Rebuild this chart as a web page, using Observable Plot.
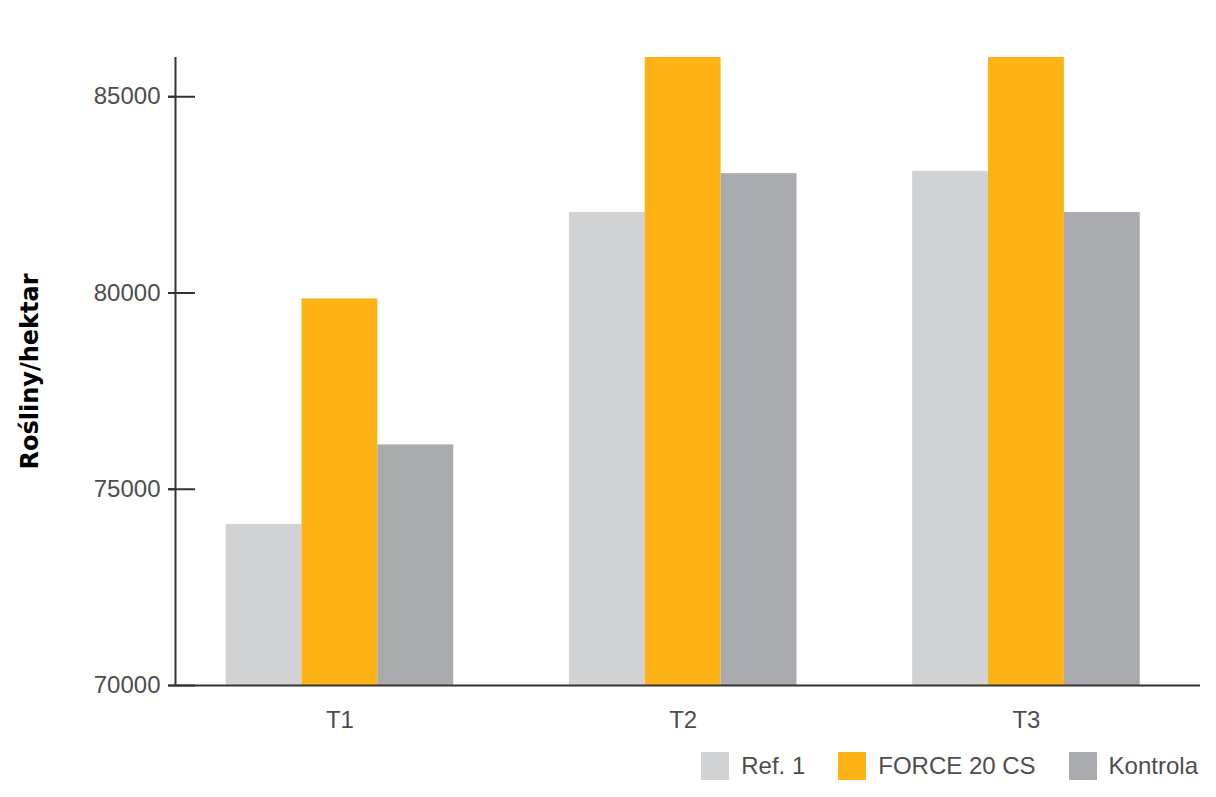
<!DOCTYPE html>
<html><head><meta charset="utf-8">
<script src="https://cdn.jsdelivr.net/npm/d3@7"></script>
<script src="https://cdn.jsdelivr.net/npm/@observablehq/plot@0.6"></script>
<style>
body{margin:0;background:#fff;}
#legend{display:flex;justify-content:flex-end;align-items:center;margin-right:18px;margin-top:12px;font-family:"Liberation Sans",Arial,sans-serif;font-size:24px;line-height:28px;color:#4d4d4d;}
.sw{display:flex;align-items:center;margin-left:33px}
.sw .box{width:28px;height:28px;margin-right:12px;display:inline-block}
</style></head><body><div id="chart"></div><div id="legend"></div>
<script>
const groups = ["T1", "T2", "T3"];
const seriesNames = ["Ref. 1", "FORCE 20 CS", "Kontrola"];
const ref1 = [74100, 82050, 83100];
const force20cs = [79850, 86000, 86000];
const kontrola = [76130, 83040, 82050];
const colors = ["#d1d2d4", "#fdb316", "#a9aaad"];
const yTicks = [70000, 75000, 80000, 85000];
const yDomain = [70000, 86000];
const yLabel = "Rośliny/hektar";

const seriesValues = [ref1, force20cs, kontrola];
const data = groups.flatMap((g, gi) => seriesNames.map((s, si) => ({group: g, gi: gi + 1, si, series: s, value: seriesValues[si][gi]})));

const bw = 0.221;                 // bar width in group-step units
const xDomain = [0.521, 3.507];
const font = '"Liberation Sans",Arial,sans-serif';

const chart = Plot.plot({
  width: 1216, height: 740,
  marginLeft: 175, marginRight: 16, marginTop: 57, marginBottom: 55,
  style: {fontFamily: font, fontSize: "24px", color: "#4d4d4d", background: "#fff"},
  x: {domain: xDomain},
  y: {domain: yDomain},
  color: {domain: seriesNames, range: colors},
  marks: [
    Plot.rectY(data, {
      x1: d => d.gi + (d.si - 1.5) * bw,
      x2: d => d.gi + (d.si - 0.5) * bw,
      y: "value", fill: "series", clip: true
    }),
    Plot.ruleX([xDomain[0]], {stroke: "#333", strokeWidth: 2}),
    Plot.ruleY([yDomain[0]], {stroke: "#333", strokeWidth: 2}),
    Plot.axisX({ticks: [1, 2, 3], tickFormat: d => groups[d - 1], tickSize: 0, tickPadding: 25, label: null, fill: "#4d4d4d"}),
    Plot.axisY({ticks: yTicks, tickSize: 7, tickPadding: 8, tickFormat: d3.format("d"), label: null, stroke: "#333", strokeWidth: 2, fill: "#4d4d4d"}),
    Plot.axisY({ticks: yTicks, tickSize: 27, dx: 20, tickFormat: () => "", label: null, stroke: "#333", strokeWidth: 2}),
    Plot.text([yLabel], {frameAnchor: "left", rotate: -90, dx: -145, text: d => d, textAnchor: "middle", lineAnchor: "middle", fontFamily: "DejaVu Sans", fontWeight: "bold", fontSize: 24, fill: "#000"})
  ]
});
document.getElementById("chart").appendChild(chart);

const cs = chart.scale("color");
const legend = document.getElementById("legend");
cs.domain.forEach((name, i) => {
  const item = document.createElement("div");
  item.className = "sw";
  const box = document.createElement("span");
  box.className = "box";
  box.style.background = cs.range[i];
  item.appendChild(box);
  const t = document.createElement("span");
  t.textContent = name;
  item.appendChild(t);
  legend.appendChild(item);
});
</script></body></html>
